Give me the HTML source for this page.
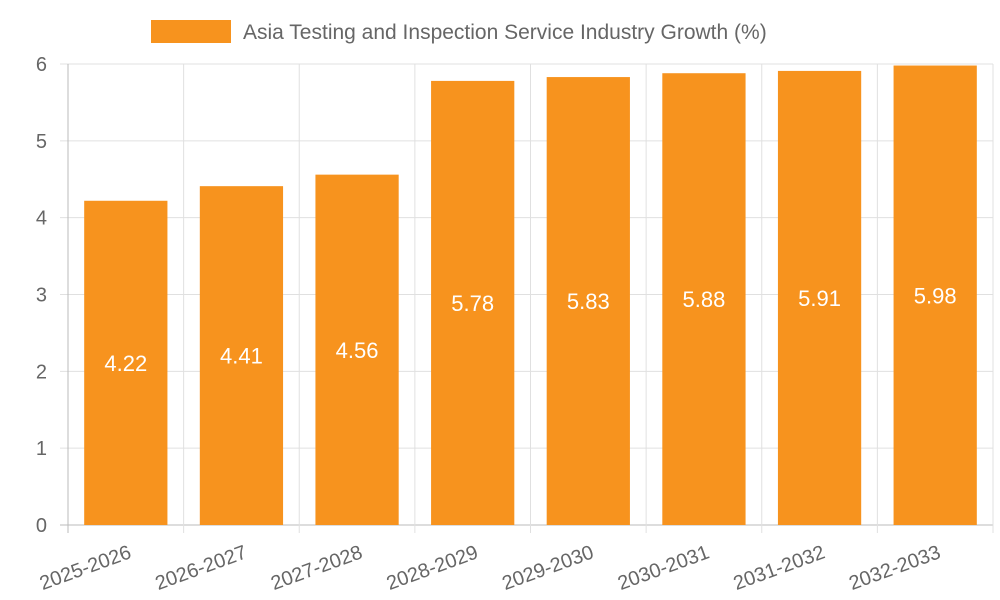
<!DOCTYPE html>
<html><head><meta charset="utf-8"><style>
html,body{margin:0;padding:0;background:#fff;}
svg{display:block;font-family:"Liberation Sans",sans-serif;}
</style></head><body>
<svg id="chart" width="1000" height="600"></svg>
<script>
const categories=["2025-2026","2026-2027","2027-2028","2028-2029","2029-2030","2030-2031","2031-2032","2032-2033"];
const values=[4.22,4.41,4.56,5.78,5.83,5.88,5.91,5.98];
const yTicks=[0,1,2,3,4,5,6];
const seriesName="Asia Testing and Inspection Service Industry Growth (%)";
const NS="http://www.w3.org/2000/svg";
const svg=document.getElementById('chart');
const L=68,R=993,T=64,B=525,yMax=6;
const band=(R-L)/categories.length;
const x=i=>L+band*i;
const y=v=>B-(B-T)*v/yMax;
function mk(tag,attrs,parent){const e=document.createElementNS(NS,tag);for(const k in attrs)e.setAttribute(k,attrs[k]);(parent||svg).appendChild(e);return e;}
const grid=mk('g',{});


yTicks.forEach(t=>{
  const l=mk('line',{x1:60,x2:R,y1:y(t),y2:y(t),stroke:t===0?'#bbb':'#e0e0e0','stroke-width':1},grid);
  
  
  const tx=mk('text',{x:47,y:y(t)+7,'text-anchor':'end','font-size':20,fill:'#666'});
  tx.textContent=t;
  
  
});
for(let i=0;i<=categories.length;i++){
  const l=mk('line',{x1:x(i),x2:x(i),y1:T,y2:B+8,stroke:i===0?'#bbb':'#e0e0e0','stroke-width':1},grid);
  
  
}
categories.forEach((c,i)=>{
  const bw=band*0.72;
  const cx=x(i)+band/2;
  const r=mk('rect',{x:cx-bw/2,y:y(values[i]),width:bw,height:B-y(values[i]),fill:'#f7931e'});
  
  
  const vt=mk('text',{x:cx,y:y(values[i]/2)+8,'text-anchor':'middle','font-size':22,fill:'#fff'});
  vt.textContent=values[i].toFixed(2);
  
  
  const xt=mk('text',{x:cx,y:B+20,'text-anchor':'end','font-size':20,fill:'#666',transform:`rotate(-20 ${cx} ${B+20})`});
  xt.setAttribute('dx','2');xt.setAttribute('dy','14');
  xt.textContent=c;
  
  
});
const lg=mk('g',{});


mk('rect',{x:151,y:20,width:80,height:23,fill:'#f7931e'},lg);
const lt=mk('text',{x:243,y:39,'font-size':21,fill:'#666'},lg);
lt.textContent=seriesName;
</script>
</body></html>
